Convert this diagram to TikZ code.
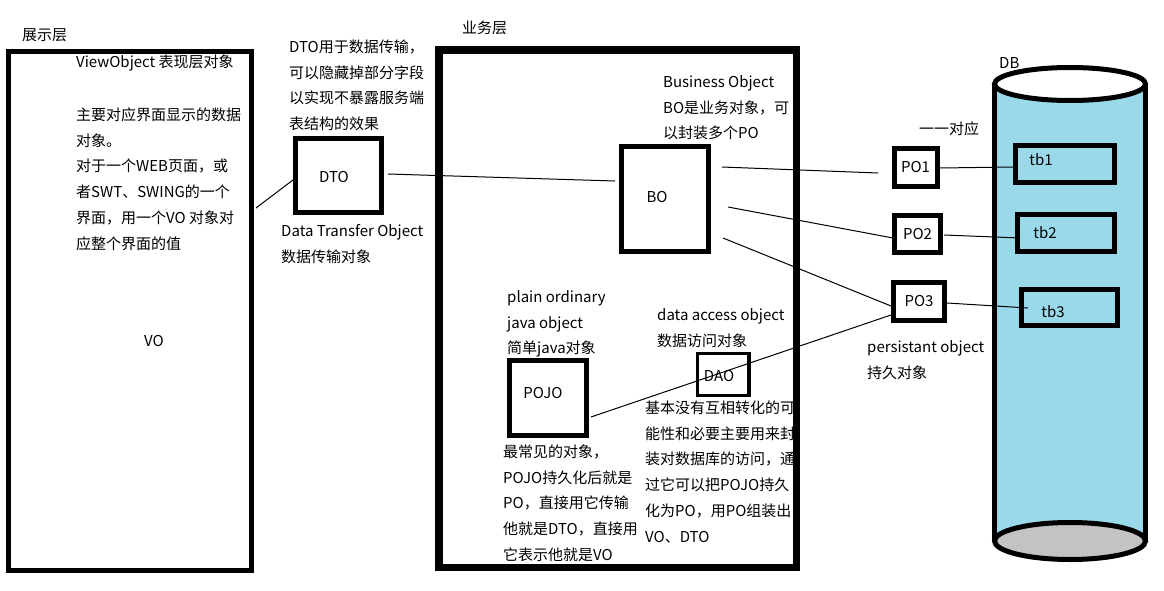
\documentclass[tikz,border=0pt]{standalone}
\usepackage{fontspec}
\setmainfont{Noto Sans CJK SC}
\definecolor{dbblue}{HTML}{99D9EA}
\definecolor{dbgrey}{HTML}{C3C3C3}
\begin{document}
\begin{tikzpicture}[x=1pt,y=-1pt,
  txt/.style={font=\fontsize{15}{25.7}\selectfont, inner sep=0pt, align=left, anchor=base west},
  lbl/.style={font=\fontsize{15}{25.7}\selectfont, inner sep=0pt, anchor=center},
  bigbox/.style={draw, line width=5pt, inner sep=0pt, fill=none},
  objbox/.style={draw, line width=5pt, inner sep=0pt, fill=white, font=\fontsize{15}{18}\selectfont},
  tbbox/.style={draw, line width=5pt, inner sep=0pt},
  conn/.style={line width=1pt}]
\useasboundingbox (0,0) rectangle (1164,591);
\fill[white] (0,0) rectangle (1164,591);

% ---- presentation layer (multi-line nodes: base = last line)
\node[txt] (lzs) at (22,40.5) {展示层};
\node[bigbox, minimum width=243pt, minimum height=518.5pt] (vobox) at (130,311.25) {};
\node[txt] (votitle) at (76,67.5) {ViewObject 表现层对象};
\node[txt] (vodesc) at (76,249) {主要对应界面显示的数据\\对象。\\对于一个WEB页面，或\\者SWT、SWING的一个\\界面，用一个VO 对象对\\应整个界面的值};
\node[lbl] (volbl) at (154,341) {VO};

% ---- DTO
\node[txt] (dtodesc) at (289,129.6) {DTO用于数据传输，\\可以隐藏掉部分字段\\以实现不暴露服务端\\表结构的效果};
\node[objbox, minimum width=86pt, minimum height=73pt] (dto) at (338,175.5) {};
\node[lbl] (dtolbl) at (334,177) {DTO};
\node[txt] (dtoname) at (281,262.2) {Data Transfer Object\\数据传输对象};

% ---- business layer
\node[txt] (lyw) at (462,33.5) {业务层};
\node[bigbox, minimum width=355pt, minimum height=514.5pt] (bizbox) at (617.5,308.75) {};
\node[txt] (bodesc) at (663,138.9) {Business Object\\BO是业务对象，可\\以封装多个PO};
\node[objbox, minimum width=87pt, minimum height=104.5pt] (bo) at (665,198.75) {};
\node[lbl] (bolbl) at (657,197) {BO};

\node[txt] (pojodesc) at (507,353.9) {plain ordinary\\java object\\简单java对象};
\node[objbox, minimum width=77pt, minimum height=75pt] (pojo) at (548,398) {};
\node[lbl] (pojolbl) at (543,393) {POJO};
\node[txt] (pojonote) at (503,560.3) {最常见的对象，\\POJO持久化后就是\\PO，直接用它传输\\他就是DTO，直接用\\它表示他就是VO};

\node[txt] (daodesc) at (657,346.2) {data access object\\数据访问对象};
\node[draw, line width=3.5pt, inner sep=0pt, minimum width=51.5pt, minimum height=42pt] (dao) at (723.25,374.5) {};
\node[lbl] (daolbl) at (719,376) {DAO};
\begin{scope}
  \clip (600,390) rectangle (793,570);
  \node[txt] (daonote) at (645,542) {基本没有互相转化的可\\能性和必要主要用来封\\装对数据库的访问，通\\过它可以把POJO持久\\化为PO，用PO组装出\\VO、DTO};
\end{scope}
\draw[line width=5pt] (bizbox.north west) rectangle (bizbox.south east);

% ---- persistent objects
\node[txt] (onetoone) at (919,134.5) {一一对应};
\node[objbox, minimum width=43pt, minimum height=38pt] (po1) at (915.5,167) {PO1};
\node[objbox, minimum width=46pt, minimum height=37pt] (po2) at (917.5,234) {PO2};
\node[objbox, minimum width=51pt, minimum height=38pt] (po3) at (919,301.5) {PO3};
\node[txt] (podesc) at (867,378.2) {persistant object\\持久对象};

% ---- database cylinder
\fill[dbblue] (994.5,84) -- (994.5,541) arc[start angle=180, end angle=360, x radius=75.5, y radius=-18.5]
  -- (1145.5,84) -- cycle;
\fill[white] (1070,84) ellipse[x radius=75.5, y radius=16.5];
\fill[dbgrey] (1070,541) ellipse[x radius=75.5, y radius=18.5];
\draw[line width=5pt] (994.5,84) -- (994.5,541);
\draw[line width=5pt] (1145.5,84) -- (1145.5,541);
\draw[line width=5pt] (1070,84) ellipse[x radius=75.5, y radius=16.5];
\draw[line width=5pt] (1070,541) ellipse[x radius=75.5, y radius=18.5];
\node[txt] (dblbl) at (999,68.5) {DB};

\node[tbbox, minimum width=98.5pt, minimum height=37pt] (tb1) at (1064.75,164) {};
\node[lbl] (tb1lbl) at (1041,160) {tb1};
\node[tbbox, minimum width=97pt, minimum height=37pt] (tb2) at (1066,233) {};
\node[lbl] (tb2lbl) at (1045,233) {tb2};
\node[tbbox, minimum width=96pt, minimum height=36pt] (tb3) at (1069.5,307.5) {};
\node[lbl] (tb3lbl) at (1053,312) {tb3};

% ---- connector end points
\coordinate (c1a) at (256,208);  \coordinate (c1b) at (293,180);
\coordinate (c2a) at (388,174);  \coordinate (c2b) at (615,181);
\coordinate (c3a) at (722,167);  \coordinate (c3b) at (878,173);
\coordinate (c4a) at (728,207);  \coordinate (c4b) at (893,238);
\coordinate (c5a) at (723,238);  \coordinate (c5b) at (891,306);
\coordinate (c6a) at (891,315);  \coordinate (c6b) at (591,417);
\coordinate (c7a) at (940,168);  \coordinate (c7b) at (1013,167);
\coordinate (c8a) at (944,235);  \coordinate (c8b) at (1020,238);
\coordinate (c9a) at (947,303);  \coordinate (c9b) at (1028,308);

\draw[conn] (c1a) -- (c1b);
\draw[conn] (c2a) -- (c2b);
\draw[conn] (c3a) -- (c3b);
\draw[conn] (c4a) -- (c4b);
\draw[conn] (c5a) -- (c5b);
\draw[conn] (c6a) -- (c6b);
\draw[conn] (c7a) -- (c7b);
\draw[conn] (c8a) -- (c8b);
\draw[conn] (c9a) -- (c9b);
\end{tikzpicture}
\end{document}
